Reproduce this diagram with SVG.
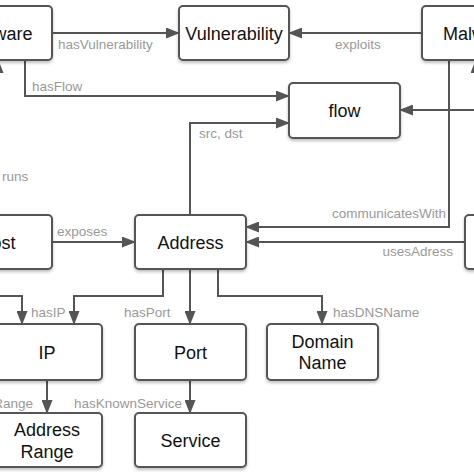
<svg xmlns="http://www.w3.org/2000/svg" width="474" height="474" viewBox="0 0 474 474">
<defs>
<style>
.box{fill:#fff;stroke:#555;stroke-width:2;filter:url(#sh)}
.nt{font-family:"Liberation Sans",Arial,sans-serif;font-size:18px;fill:#111;text-anchor:middle}
.lb{font-family:"Liberation Sans",Arial,sans-serif;font-size:13.5px;fill:#999}
.cn{fill:none;stroke:#555;stroke-width:2;marker-end:url(#ah)}
</style>
<marker id="ah" markerWidth="14" markerHeight="11" refX="13" refY="5.5" orient="auto" markerUnits="userSpaceOnUse">
<path d="M0,0 L14,5.5 L0,11 Z" fill="#555"/>
</marker>
<filter id="sh" x="-20%" y="-20%" width="140%" height="150%">
<feDropShadow dx="0" dy="2" stdDeviation="1.5" flood-color="#000" flood-opacity="0.25"/>
</filter>
</defs>
<rect width="474" height="474" fill="#fff"/>
<g id="connectors">
<path class="cn" d="M52,33 H179"/>
<path class="cn" d="M422,33 H289"/>
<path class="cn" d="M25,60 V96 H289"/>
<path class="cn" d="M190,215 V123 H289"/>
<path class="cn" d="M490,110 H400"/>
<path class="cn" d="M449,60 V227 H246"/>
<path class="cn" d="M465,242 H246"/>
<path class="cn" d="M52,242 H135"/>
<path class="cn" d="M-2,215 V60"/>
<path class="cn" d="M476,215 V60"/>
<path class="cn" d="M163,269 V296 H74 V324"/>
<path class="cn" d="M-10,296 H22 V324"/>
<path class="cn" d="M190,269 V324"/>
<path class="cn" d="M218,269 V296 H322 V324"/>
<path class="cn" d="M47,380 V413"/>
<path class="cn" d="M190,380 V413"/>
</g>
<g id="labels">
<text class="lb" x="58" y="49">hasVulnerability</text>
<text class="lb" x="335" y="49">exploits</text>
<text class="lb" x="32" y="91">hasFlow</text>
<text class="lb" x="199" y="138">src, dst</text>
<text class="lb" x="2" y="181">runs</text>
<text class="lb" x="57" y="236">exposes</text>
<text class="lb" x="446" y="218" text-anchor="end">communicatesWith</text>
<text class="lb" x="453" y="256" text-anchor="end">usesAdress</text>
<text class="lb" x="31" y="317">hasIP</text>
<text class="lb" x="124" y="317">hasPort</text>
<text class="lb" x="333" y="317">hasDNSName</text>
<text class="lb" x="33" y="408" text-anchor="end">hasRange</text>
<text class="lb" x="74" y="408">hasKnownService</text>
</g>
<g id="software"><rect class="box" x="-58" y="6" width="110" height="54" rx="4"/><text class="nt" x="-3" y="39.5">Software</text></g>
<g id="vulnerability"><rect class="box" x="179" y="6" width="110" height="54" rx="4"/><text class="nt" x="234" y="39.5">Vulnerability</text></g>
<g id="malware"><rect class="box" x="422" y="6" width="110" height="54" rx="4"/><text class="nt" x="477" y="39.5">Malware</text></g>
<g id="flow"><rect class="box" x="289" y="83" width="111" height="55" rx="4"/><text class="nt" x="344.5" y="117">flow</text></g>
<g id="host"><rect class="box" x="-58" y="215" width="110" height="54" rx="4"/><text class="nt" x="-3" y="248.5">Host</text></g>
<g id="address"><rect class="box" x="135" y="215" width="111" height="54" rx="4"/><text class="nt" x="190.5" y="248.5">Address</text></g>
<g id="right-node"><rect class="box" x="465" y="215" width="110" height="54" rx="4"/></g>
<g id="ip"><rect class="box" x="-8" y="324" width="110" height="56" rx="4"/><text class="nt" x="47" y="358.5">IP</text></g>
<g id="port"><rect class="box" x="135" y="324" width="111" height="56" rx="4"/><text class="nt" x="190.5" y="358.5">Port</text></g>
<g id="domain-name"><rect class="box" x="267" y="324" width="111" height="56" rx="4"/><text class="nt" x="322.5" y="348">Domain</text><text class="nt" x="322.5" y="368.5">Name</text></g>
<g id="address-range"><rect class="box" x="-8" y="413" width="110" height="54" rx="4"/><text class="nt" x="47" y="436">Address</text><text class="nt" x="47" y="458">Range</text></g>
<g id="service"><rect class="box" x="135" y="413" width="111" height="54" rx="4"/><text class="nt" x="190.5" y="446.5">Service</text></g>
</svg>
